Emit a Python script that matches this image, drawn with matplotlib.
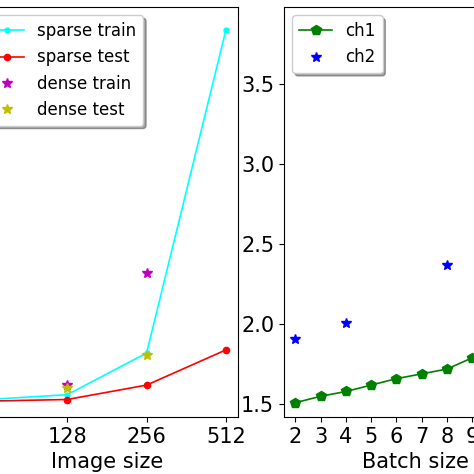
import matplotlib.pyplot as plt

# left panel: time vs image size
img_sizes = [64, 128, 256, 512]
sparse_train = [1.53, 1.56, 1.82, 3.84]
sparse_test = [1.52, 1.53, 1.62, 1.84]
dense_sizes = [128, 256]
dense_train = [1.62, 2.32]
dense_test = [1.60, 1.81]

# right panel: time vs batch size
batch = [2, 3, 4, 5, 6, 7, 8, 9, 10]
ch1 = [1.51, 1.55, 1.58, 1.62, 1.66, 1.69, 1.72, 1.79, 1.95]
ch2_batch = [2, 4, 8, 16]
ch2 = [1.91, 2.01, 2.37, 3.0]

fig = plt.figure(figsize=(4.74, 4.74), dpi=100)
ax1 = fig.add_axes([-0.051, 0.12, 0.553, 0.865])
ax2 = fig.add_axes([0.599, 0.12, 0.557, 0.865])

ax1.plot(img_sizes, sparse_train, '-', color='cyan', marker='.', ms=7, lw=1.2, label='sparse train')
ax1.plot(img_sizes, sparse_test, '-', color='red', marker='.', ms=9, lw=1.2, label='sparse test')
ax1.plot(dense_sizes, dense_train, '*', color='m', ms=7, label='dense train')
ax1.plot(dense_sizes, dense_test, '*', color='y', ms=7, label='dense test')
ax1.set_xscale('log', base=2)
ax1.set_xticks([128, 256, 512])
ax1.set_xticklabels(['128', '256', '512'])
ax1.minorticks_off()
ax1.set_ylim(1.42, 3.98)
ax1.set_xlabel('Image size', fontsize=15)
ax1.tick_params(labelsize=15)
ax1.tick_params(axis='y', left=False, labelleft=False)  # off the cropped edge
ax1.legend(loc='upper left', fontsize=12, shadow=True)

ax2.plot(batch, ch1, '-', color='green', marker='p', ms=7, lw=1.2, label='ch1')
ax2.plot(ch2_batch, ch2, '*', color='blue', ms=7, label='ch2')
ax2.set_xlim(1.55, 12)
ax2.set_xticks(batch)
ax2.set_ylim(1.42, 3.98)
ax2.set_yticks([1.5, 2.0, 2.5, 3.0, 3.5])
ax2.set_xlabel('Batch size', fontsize=15)
ax2.tick_params(labelsize=15)
ax2.legend(loc='upper left', fontsize=12, shadow=True)

fig.savefig('out.png', dpi=100)
